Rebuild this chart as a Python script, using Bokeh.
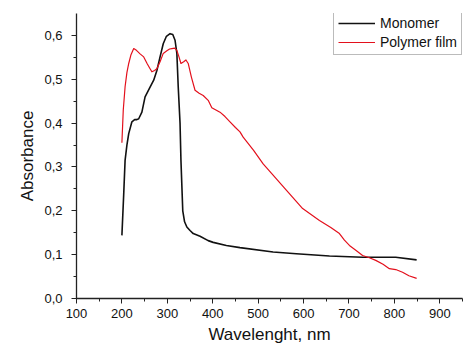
from bokeh.plotting import figure
from bokeh.models import SingleIntervalTicker, CustomJSTickFormatter, Range1d, Legend, LegendItem
from bokeh.embed import file_html
from bokeh.resources import INLINE

# Monomer
mono_nm = [200, 204, 207, 211, 215, 222, 228, 233, 237, 244, 251, 262, 270, 277, 284, 291, 298,
           306, 312, 317, 321, 324, 328, 330, 334, 338, 343, 350, 357, 372, 390, 401, 430, 460,
           533, 584, 657, 730, 803, 849]
mono_abs = [0.144, 0.239, 0.315, 0.350, 0.376, 0.403, 0.408, 0.408, 0.410, 0.425, 0.46, 0.482, 0.498,
            0.52, 0.551, 0.581, 0.598, 0.604, 0.602, 0.589, 0.559, 0.483, 0.40, 0.315, 0.20, 0.175,
            0.163, 0.155, 0.148, 0.142, 0.132, 0.128, 0.121, 0.116, 0.106, 0.102, 0.097, 0.094,
            0.094, 0.088]

# Polymer film
poly_nm = [200, 203, 207, 211, 215, 220, 226, 232, 240, 248, 256, 262, 266, 272, 277, 284, 291,
           299, 305, 310, 316, 321, 326, 330, 336, 341, 346, 353, 361, 370, 379, 390, 398, 407,
           416, 427, 438, 450, 460, 467, 490, 511, 530, 562, 598, 635, 660, 679, 690, 701, 715,
           730, 745, 759, 775, 789, 803, 818, 832, 849]
poly_abs = [0.355, 0.43, 0.483, 0.515, 0.536, 0.556, 0.570, 0.566, 0.558, 0.551, 0.535, 0.524, 0.517,
            0.52, 0.524, 0.54, 0.559, 0.565, 0.569, 0.570, 0.571, 0.566, 0.55, 0.536, 0.54, 0.544,
            0.536, 0.505, 0.475, 0.468, 0.463, 0.452, 0.435, 0.43, 0.425, 0.415, 0.403, 0.39, 0.380,
            0.368, 0.338, 0.307, 0.285, 0.247, 0.205, 0.178, 0.162, 0.148, 0.133, 0.121, 0.11, 0.098,
            0.093, 0.087, 0.078, 0.068, 0.066, 0.060, 0.052, 0.046]

p = figure(width=474, height=350, output_backend="svg", toolbar_location=None,
           x_range=Range1d(100, 950), y_range=Range1d(0, 0.65),
           min_border_left=76, min_border_right=12, min_border_top=13, min_border_bottom=52)
p.outline_line_color = None
p.xgrid.grid_line_color = None
p.ygrid.grid_line_color = None

r1 = p.line(mono_nm, mono_abs, line_color="#111111", line_width=1.6, line_join="round")
r2 = p.line(poly_nm, poly_abs, line_color="#e3101c", line_width=1.2, line_join="round")

for ax in (p.xaxis[0], p.yaxis[0]):
    ax.axis_line_color = "#222222"
    ax.axis_line_width = 1.3
    ax.major_tick_line_color = "#222222"
    ax.minor_tick_line_color = "#222222"
    ax.major_tick_out = 5
    ax.major_tick_in = 0
    ax.minor_tick_out = 3
    ax.minor_tick_in = 0
    ax.major_label_text_font = "Liberation Sans"
    ax.major_label_text_font_size = "13px"
    ax.major_label_text_color = "#111111"
    ax.axis_label_text_font = "Liberation Sans"
    ax.axis_label_text_font_size = "17px"
    ax.axis_label_text_font_style = "normal"
    ax.axis_label_text_color = "#111111"

p.xaxis[0].ticker = SingleIntervalTicker(interval=100, num_minor_ticks=2)
p.yaxis[0].ticker = SingleIntervalTicker(interval=0.1, num_minor_ticks=2)
p.yaxis[0].formatter = CustomJSTickFormatter(code="return tick.toFixed(1).replace('.', ',');")
p.xaxis[0].axis_label = "Wavelenght, nm"
p.yaxis[0].axis_label = "Absorbance"
p.xaxis[0].axis_label_standoff = 4
p.yaxis[0].major_label_standoff = 9
p.yaxis[0].axis_label_standoff = 4

legend = Legend(items=[LegendItem(label="Monomer", renderers=[r1]),
                       LegendItem(label="Polymer film", renderers=[r2])],
                location=(257, 243))
legend.border_line_color = "#777777"
legend.border_line_width = 1
legend.label_text_font = "Liberation Sans"
legend.label_text_font_size = "14px"
legend.label_text_color = "#111111"
legend.glyph_width = 37
legend.glyph_height = 16
legend.label_standoff = 5
legend.label_height = 16
legend.padding = 4
legend.spacing = 3
legend.margin = 0
legend.background_fill_alpha = 1
p.add_layout(legend, "center")

open("out.html", "w").write(file_html(p, INLINE))
